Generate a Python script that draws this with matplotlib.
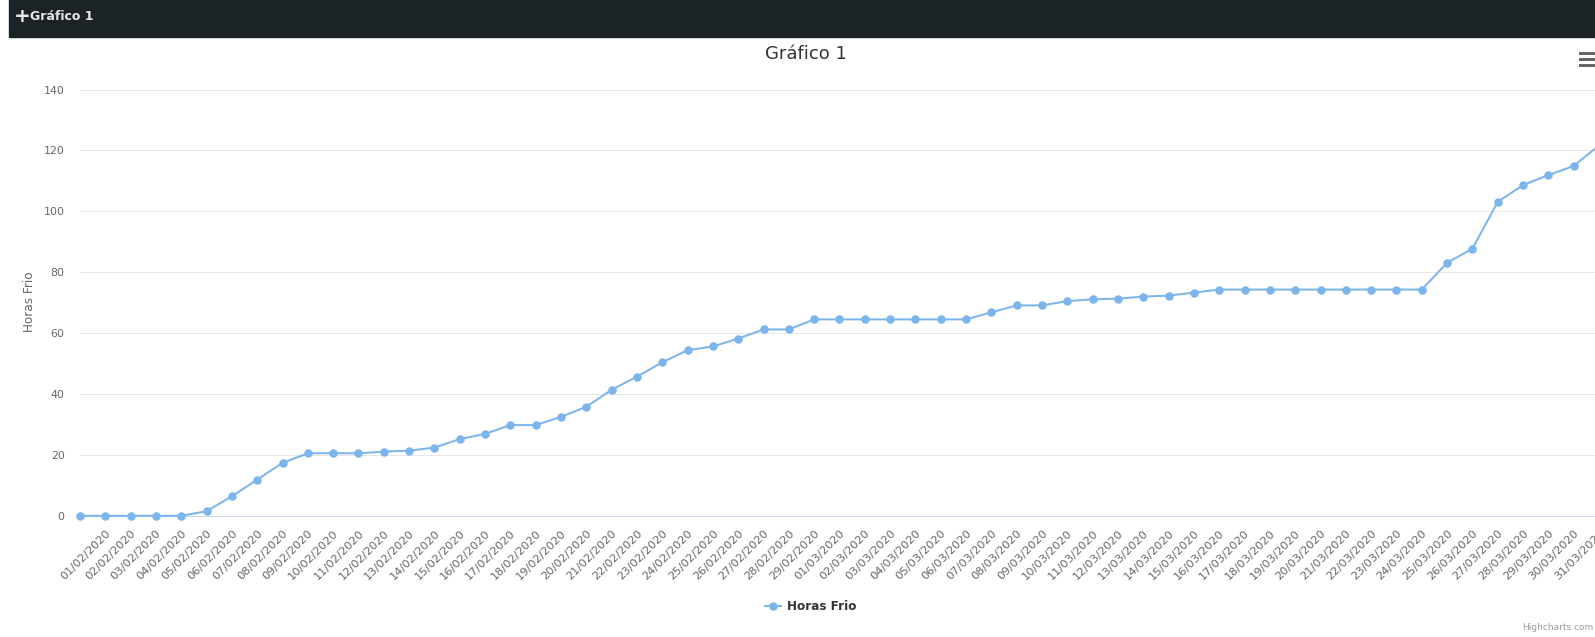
import numpy as np
import matplotlib
matplotlib.use("Agg")
import matplotlib.pyplot as plt
from matplotlib.patches import Rectangle
from matplotlib.lines import Line2D

# data (first point has no label of its own)
dates = ["%02d/02/2020" % d for d in range(1, 30)] + ["%02d/03/2020" % d for d in range(1, 32)]
horas_frio = [0, 0, 0, 0, 0, 1.5, 6.4, 11.9, 17.4, 20.5,
              20.6, 20.5, 21.1, 21.4, 22.4, 25.2, 26.9, 29.8, 29.8, 32.5,
              35.8, 41.4, 45.7, 50.4, 54.4, 55.6, 58.2, 61.2, 61.2, 64.5,
              64.5, 64.5, 64.5, 64.5, 64.5, 64.5, 66.8, 69.1, 69.1, 70.5,
              71.1, 71.3, 72.0, 72.3, 73.3, 74.3, 74.3, 74.3, 74.3, 74.3,
              74.3, 74.3, 74.3, 74.3, 83.1, 87.7, 103.1, 108.6, 111.9, 114.9,
              121.6]
y_ticks = [0, 20, 40, 60, 80, 100, 120, 140]

W, H = 1595, 637
PX = 72 / 100.0  # px -> pt
BLUE = "#7cb5ec"

fig = plt.figure(figsize=(W / 100, H / 100), dpi=100)
fig.patch.set_facecolor("white")

# plot area in pixels
left, right = 80, 1599
top, bottom = 89.5, 515.8
ax = fig.add_axes([left / W, 1 - bottom / H, (right - left) / W, (bottom - top) / H])

x = np.arange(len(horas_frio))
ax.plot(x, horas_frio, color=BLUE, lw=2 * PX, marker="o", ms=8.5 * PX, mec=BLUE,
        mfc=BLUE, mew=0, clip_on=False, zorder=3)

ax.set_xlim(0, len(horas_frio) - 1)
ax.set_ylim(0, 140)
ax.set_yticks(y_ticks)
ax.set_yticklabels([str(v) for v in y_ticks])
ax.yaxis.grid(True, color="#e6e6e6", lw=1 * PX)
ax.set_axisbelow(True)
for s in ["top", "right", "left"]:
    ax.spines[s].set_visible(False)
ax.spines["bottom"].set_color("#ccd6eb")
ax.spines["bottom"].set_linewidth(1 * PX)
ax.tick_params(axis="y", length=0, pad=11, labelsize=11 * PX, labelcolor="#666666")

ax.set_xticks(np.arange(1, len(dates) + 1))
ax.set_xticklabels(dates, rotation=45, ha="right", rotation_mode="anchor")
ax.tick_params(axis="x", length=0, pad=9, labelsize=11.5 * PX, labelcolor="#666666")

fig.text(29.5 / W, 1 - 302 / H, "Horas Frio", rotation=90, ha="center", va="center",
         fontsize=12 * PX, color="#666666")

# title
fig.text(806 / W, 1 - 54 / H, "Gráfico 1", ha="center", va="center",
         fontsize=18 * PX, color="#333333")

# dark header bar
fig.add_artist(Rectangle((9 / W, 1 - 36.6 / H), 1, 36.6 / H, transform=fig.transFigure,
                         color="#1c2327", zorder=5))
fig.text(14 / W, 1 - 16 / H, "+", ha="left", va="center", fontsize=20 * PX,
         color="#e8e8e8", fontweight="bold", zorder=6)
fig.text(30 / W, 1 - 16 / H, "Gráfico 1", ha="left", va="center", fontsize=12.5 * PX,
         color="#e8e8e8", fontweight="bold", zorder=6)

# export menu icon
for yy in [53, 59, 65]:
    fig.add_artist(Line2D([1580 / W, 1 + 5 / W], [1 - yy / H, 1 - yy / H],
                          transform=fig.transFigure, color="#666666", lw=3 * PX))

# legend
fig.add_artist(Line2D([765 / W, 781 / W], [1 - 606 / H, 1 - 606 / H], transform=fig.transFigure,
                      color=BLUE, lw=2 * PX))
fig.add_artist(Line2D([773 / W], [1 - 606 / H], transform=fig.transFigure,
                      color=BLUE, marker="o", ms=8.5 * PX, mew=0, lw=0))
fig.text(787 / W, 1 - 606 / H, "Horas Frio", ha="left", va="center", fontsize=12 * PX,
         color="#333333", fontweight="bold")

# credits
fig.text(1593 / W, 1 - 628 / H, "Highcharts.com", ha="right", va="center",
         fontsize=9 * PX, color="#999999")

fig.savefig("out.png", dpi=100)
